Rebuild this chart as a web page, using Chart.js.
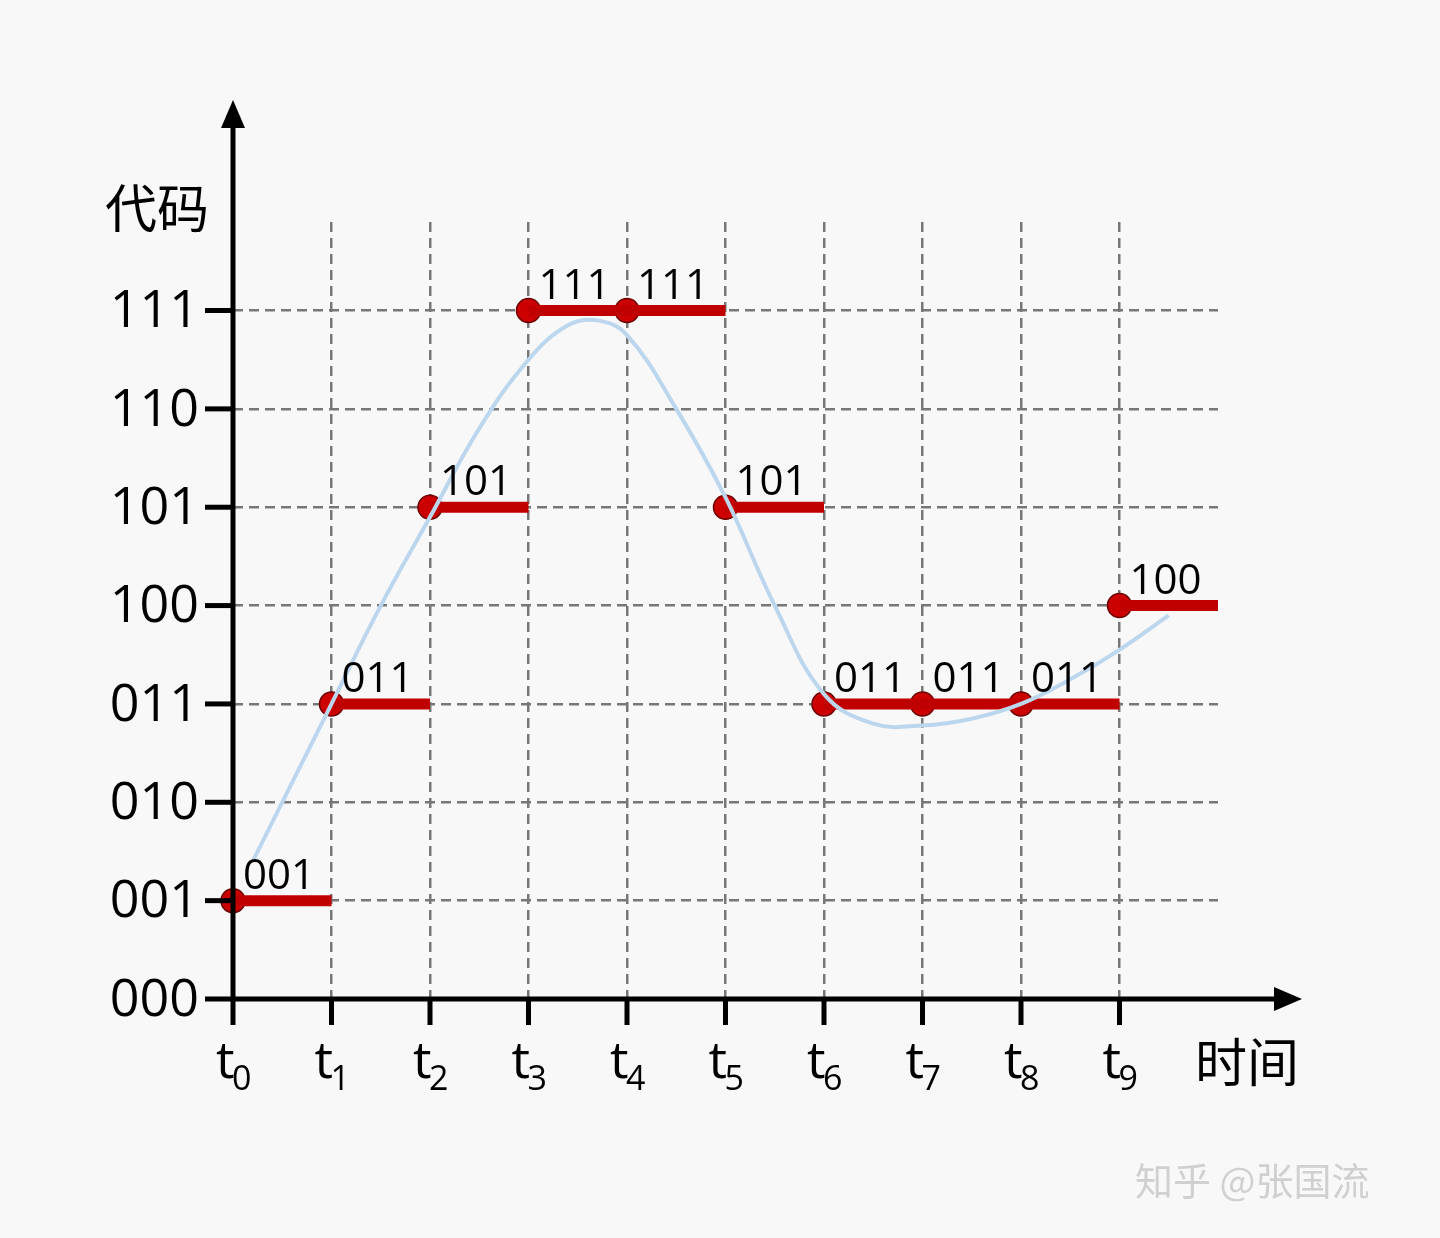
<!DOCTYPE html>
<html>
<head>
<meta charset="utf-8">
<script src="https://cdn.jsdelivr.net/npm/chart.js@4/dist/chart.umd.min.js"></script>
<style>
  html, body { margin: 0; padding: 0; background: #f8f8f8; }
  canvas { display: block; }
</style>
</head>
<body>
<canvas id="c" width="1440" height="1238"></canvas>
<script>
// sample times t0..t9 and the quantised codes at each
const times = [0, 1, 2, 3, 4, 5, 6, 7, 8, 9];
const codes = [1, 3, 5, 7, 7, 5, 3, 3, 3, 4];
const codeLabels = ["000", "001", "010", "011", "100", "101", "110", "111"];
// analog signal
const analogX = [0.2, 0.6, 1, 1.5, 2, 2.5, 3, 3.4, 3.7, 4, 4.5, 5, 5.5, 6, 6.5, 7, 7.5, 8, 8.5, 9, 9.5];
const analogY = [1.4, 2.2, 3.0, 4.0, 4.9, 5.8, 6.5, 6.85, 6.9, 6.75, 6.0, 5.1, 4.0, 3.1, 2.8, 2.78, 2.85, 3.0, 3.25, 3.55, 3.9];

const steps = [];
times.forEach((t, i) => {
    steps.push({x: t, y: codes[i]}, {x: t + 1, y: codes[i]}, {x: t + 1, y: null});
});

const axisPlugin = {
    id: "axes",
    afterDraw(chart) {
        const ctx = chart.ctx;
        const xs = chart.scales.x, ys = chart.scales.y;
        const x0 = xs.getPixelForValue(0), y0 = ys.getPixelForValue(0);
        ctx.save();
        ctx.strokeStyle = "#000"; ctx.fillStyle = "#000"; ctx.lineWidth = 5;
        ctx.beginPath(); ctx.moveTo(x0, y0); ctx.lineTo(x0, 120); ctx.stroke();
        ctx.beginPath(); ctx.moveTo(x0, y0); ctx.lineTo(1280, y0); ctx.stroke();
        ctx.beginPath(); ctx.moveTo(x0, 100); ctx.lineTo(x0 - 12, 128); ctx.lineTo(x0 + 12, 128); ctx.fill();
        ctx.beginPath(); ctx.moveTo(1302, y0); ctx.lineTo(1274, y0 - 12); ctx.lineTo(1274, y0 + 12); ctx.fill();
        // y ticks
        ctx.font = "52px 'Open Sans'";
        ctx.textAlign = "right"; ctx.textBaseline = "middle";
        codeLabels.forEach((l, v) => {
            const y = ys.getPixelForValue(v);
            ctx.beginPath(); ctx.moveTo(x0 - 28, y); ctx.lineTo(x0, y); ctx.stroke();
            ctx.fillText(l, x0 - 34, y + 2);
        });
        // x ticks with subscripts
        times.forEach(t => {
            const x = xs.getPixelForValue(t);
            ctx.beginPath(); ctx.moveTo(x, y0); ctx.lineTo(x, y0 + 26); ctx.stroke();
            ctx.textAlign = "left"; ctx.textBaseline = "alphabetic";
            ctx.font = "52px 'Open Sans'";
            ctx.fillText("t", x - 17, 1078);
            ctx.font = "34px 'Open Sans'";
            ctx.fillText(String(t), x - 1, 1090);
        });
        ctx.font = "52px 'Noto Sans CJK SC'";
        ctx.textAlign = "left";
        ctx.fillText("代码", 105, 228);
        ctx.fillText("时间", 1195, 1082);
        // code labels above each sample
        ctx.font = "42px 'Open Sans'";
        times.forEach((t, i) => {
            ctx.fillText(codeLabels[codes[i]], xs.getPixelForValue(t) + 10, ys.getPixelForValue(codes[i]) - 12);
        });
        ctx.fillStyle = "#d0d0d0";
        ctx.font = "38px 'Noto Sans CJK SC'";
        ctx.fillText("知乎 @张国流", 1135, 1195);
        ctx.restore();
    }
};

new Chart(document.getElementById("c"), {
    type: "scatter",
    data: {
        datasets: [
            {
                type: "line",
                data: analogX.map((x, i) => ({x: x, y: analogY[i]})),
                borderColor: "#bcd6ee", borderWidth: 4, tension: 0.4,
                pointRadius: 0, fill: false
            },
            {
                type: "line",
                data: steps,
                borderColor: "#c00000", borderWidth: 11, pointRadius: 0,
                spanGaps: false, fill: false, borderCapStyle: "butt"
            },
            {
                data: times.map((t, i) => ({x: t, y: codes[i]})),
                backgroundColor: "#cc0000", borderColor: "#6a0000",
                borderWidth: 1.5, pointRadius: 12, clip: false
            }
        ]
    },
    options: {
        responsive: false,
        devicePixelRatio: 1,
        animation: false,
        layout: {padding: {left: 233, right: 222, top: 222, bottom: 239}},
        plugins: {legend: {display: false}, tooltip: {enabled: false}},
        scales: {
            x: {
                type: "linear", min: 0, max: 10,
                ticks: {display: false, stepSize: 1},
                border: {display: false, dash: [10, 6]},
                grid: {
                    color: ctx => ctx.tick && ctx.tick.value === 10 ? "rgba(0,0,0,0)" : "#777",
                    lineWidth: 2.5, drawTicks: false
                },
                afterFit(s) { s.height = 0; }
            },
            y: {
                min: 0, max: 7.9,
                afterBuildTicks(s) { s.ticks = [0, 1, 2, 3, 4, 5, 6, 7].map(v => ({value: v})); },
                ticks: {display: false},
                border: {display: false, dash: [10, 6]},
                grid: {color: "#777", lineWidth: 2.5, drawTicks: false},
                afterFit(s) { s.width = 0; }
            }
        }
    },
    plugins: [axisPlugin]
});
</script>
</body>
</html>
